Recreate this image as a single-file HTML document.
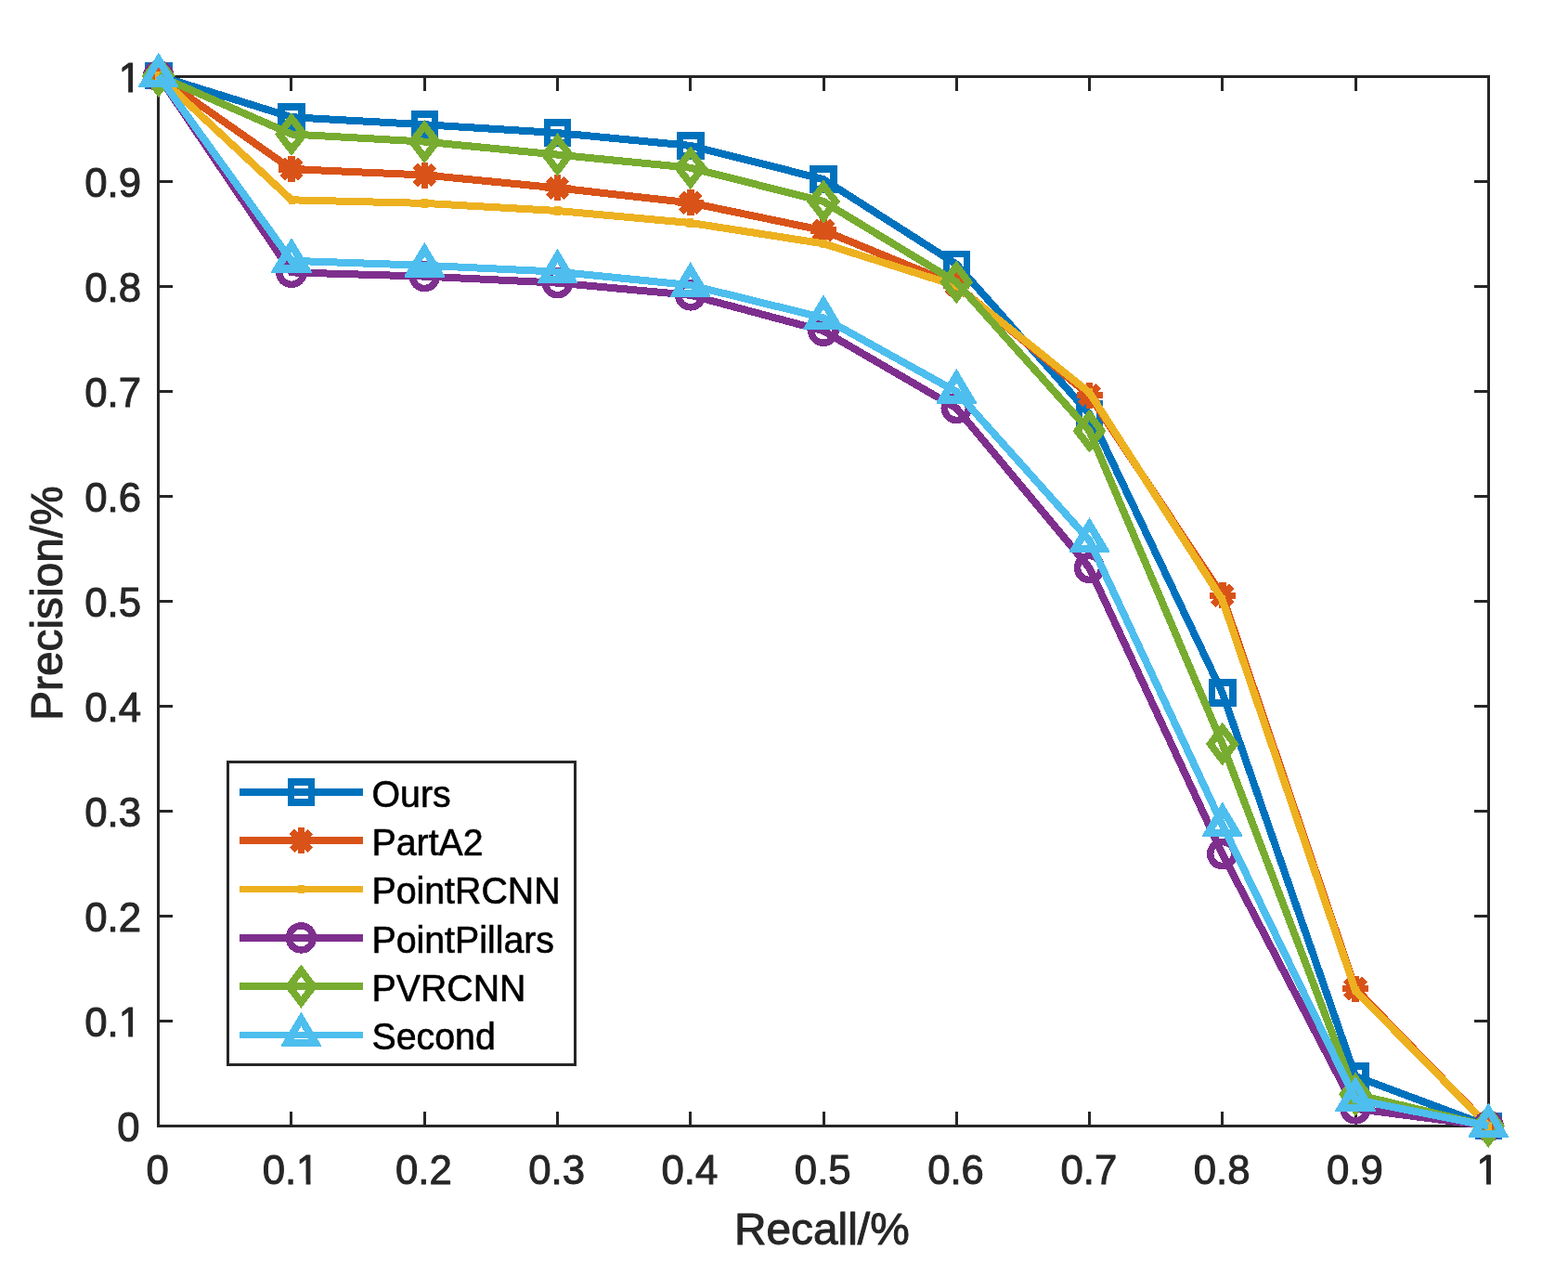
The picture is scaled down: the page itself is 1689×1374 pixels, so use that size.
<!DOCTYPE html>
<html lang="en">
<head>
<meta charset="utf-8">
<title>Precision-Recall curves</title>
<style>
html,body{margin:0;padding:0;background:#fff;}
body{width:1689px;height:1374px;overflow:hidden;font-family:"Liberation Sans",Arial,Helvetica,sans-serif;}
svg{display:block;}
</style>
</head>
<body>
<svg width="1689" height="1374" viewBox="0 0 1689 1374">

<defs>
<g id="sq"><path fill-rule="evenodd" d="M-14.75-14.75H14.75V14.75H-14.75Z M-7.35-7.35V7.35H7.35V-7.35Z"/></g>
<g id="ast"><path d="M-3.75-14H3.75V14H-3.75Z"/><path d="M-14-3.75H14V3.75H-14Z"/><path transform="rotate(45)" d="M-4-14H4V14H-4Z"/><path transform="rotate(-45)" d="M-4-14H4V14H-4Z"/></g>
<g id="pt"><rect x="-3.5" y="-4.6" width="7" height="9.2"/></g>
<g id="ci"><path fill-rule="evenodd" d="M-16.8 0A16.8 16.8 0 1 0 16.8 0A16.8 16.8 0 1 0 -16.8 0Z M-9.3 0A9.3 9.3 0 1 1 9.3 0A9.3 9.3 0 1 1 -9.3 0Z"/></g>
<g id="di"><path fill-rule="evenodd" d="M0-23.5L18 0L0 23.5L-18 0Z M0-10.65L-8.15 0L0 10.65L8.15 0Z"/></g>
<g id="dil"><path fill-rule="evenodd" d="M0-23.5L14.6-4.45V4.45L0 23.5L-14.6 4.45V-4.45Z M0-10.65L-8.15 0L0 10.65L8.15 0Z"/></g>
<g id="tri"><path fill-rule="evenodd" d="M0-25.1L21.7 11.3V12.8H-21.7V11.3Z M0-9.5L-8.1 4.7H8.1Z"/></g>
</defs>
<rect x="0" y="0" width="1689" height="1374" fill="#fff"/>
<g fill="#262626" shape-rendering="crispEdges">
<rect x="169" y="81" width="1436" height="3"/>
<rect x="169" y="1211" width="1436" height="3"/>
<rect x="169" y="81" width="3" height="1133"/>
<rect x="1602" y="81" width="3" height="1133"/>
<rect x="312" y="1197" width="3" height="14"/>
<rect x="312" y="84" width="3" height="14"/>
<rect x="172" y="1098" width="14" height="3"/>
<rect x="1588" y="1098" width="14" height="3"/>
<rect x="456" y="1197" width="3" height="14"/>
<rect x="456" y="84" width="3" height="14"/>
<rect x="172" y="985" width="14" height="3"/>
<rect x="1588" y="985" width="14" height="3"/>
<rect x="599" y="1197" width="3" height="14"/>
<rect x="599" y="84" width="3" height="14"/>
<rect x="172" y="872" width="14" height="3"/>
<rect x="1588" y="872" width="14" height="3"/>
<rect x="742" y="1197" width="3" height="14"/>
<rect x="742" y="84" width="3" height="14"/>
<rect x="172" y="759" width="14" height="3"/>
<rect x="1588" y="759" width="14" height="3"/>
<rect x="886" y="1197" width="3" height="14"/>
<rect x="886" y="84" width="3" height="14"/>
<rect x="172" y="646" width="14" height="3"/>
<rect x="1588" y="646" width="14" height="3"/>
<rect x="1029" y="1197" width="3" height="14"/>
<rect x="1029" y="84" width="3" height="14"/>
<rect x="172" y="533" width="14" height="3"/>
<rect x="1588" y="533" width="14" height="3"/>
<rect x="1172" y="1197" width="3" height="14"/>
<rect x="1172" y="84" width="3" height="14"/>
<rect x="172" y="420" width="14" height="3"/>
<rect x="1588" y="420" width="14" height="3"/>
<rect x="1315" y="1197" width="3" height="14"/>
<rect x="1315" y="84" width="3" height="14"/>
<rect x="172" y="307" width="14" height="3"/>
<rect x="1588" y="307" width="14" height="3"/>
<rect x="1459" y="1197" width="3" height="14"/>
<rect x="1459" y="84" width="3" height="14"/>
<rect x="172" y="194" width="14" height="3"/>
<rect x="1588" y="194" width="14" height="3"/>
</g>
<g font-family="'Liberation Sans', Arial, Helvetica, sans-serif" fill="#262626" stroke="#262626" stroke-width="1.0" stroke-linejoin="round">
<g font-size="43.75" text-anchor="middle">
<text x="169.75" y="1275">0</text>
<text x="313.05" y="1275">0.1</text>
<text x="456.35" y="1275">0.2</text>
<text x="599.65" y="1275">0.3</text>
<text x="742.95" y="1275">0.4</text>
<text x="886.25" y="1275">0.5</text>
<text x="1029.55" y="1275">0.6</text>
<text x="1172.85" y="1275">0.7</text>
<text x="1316.15" y="1275">0.8</text>
<text x="1459.45" y="1275">0.9</text>
<text x="1602.75" y="1275">1</text>
</g>
<g font-size="43.75" text-anchor="end">
<text x="150.7" y="1229">0</text>
<text x="152.0" y="1116">0.1</text>
<text x="152.0" y="1003">0.2</text>
<text x="152.0" y="890">0.3</text>
<text x="152.0" y="777">0.4</text>
<text x="152.0" y="664">0.5</text>
<text x="152.0" y="551">0.6</text>
<text x="152.0" y="438">0.7</text>
<text x="152.0" y="325">0.8</text>
<text x="152.0" y="212">0.9</text>
<text x="152.0" y="99">1</text>
</g>
<text font-size="47.85" text-anchor="middle" x="885.3" y="1340">Recall/%</text>
<text font-size="47.85" text-anchor="middle" transform="translate(66.6 649.6) rotate(-90)">Precision/%</text>
</g>
<g fill="#fff">
<rect x="319.76" y="1270.73" width="9.87" height="6"/><rect x="334.50" y="1270.73" width="9.53" height="6"/>
<rect x="128.30" y="1111.73" width="9.87" height="6"/><rect x="143.04" y="1111.73" width="9.53" height="6"/>
<rect x="1591.21" y="1270.73" width="9.87" height="6"/><rect x="1605.95" y="1270.73" width="9.53" height="6"/>
<rect x="128.30" y="94.73" width="9.87" height="6"/><rect x="143.04" y="94.73" width="9.53" height="6"/>
</g>
<g fill="#0072BD" shape-rendering="crispEdges">
<polyline points="170.75,81.60 314.00,126.20 457.25,134.20 600.50,143.10 743.75,156.90 887.00,193.10 1030.25,284.50 1173.50,445.70 1316.75,746.10 1460.00,1158.90 1603.25,1212.50" fill="none" stroke="#0072BD" stroke-width="8.0" stroke-linejoin="miter" stroke-linecap="butt"/>
<use href="#sq" x="170.75" y="81.60"/>
<use href="#sq" x="314.00" y="126.20"/>
<use href="#sq" x="457.25" y="134.20"/>
<use href="#sq" x="600.50" y="143.10"/>
<use href="#sq" x="743.75" y="156.90"/>
<use href="#sq" x="887.00" y="193.10"/>
<use href="#sq" x="1030.25" y="284.50"/>
<use href="#sq" x="1173.50" y="445.70"/>
<use href="#sq" x="1316.75" y="746.10"/>
<use href="#sq" x="1460.00" y="1158.90"/>
<use href="#sq" x="1603.25" y="1212.50"/>
</g>
<g fill="#D95319" shape-rendering="crispEdges">
<polyline points="170.75,81.60 314.00,182.10 457.25,188.50 600.50,202.40 743.75,218.40 887.00,248.20 1030.25,307.10 1173.50,425.70 1316.75,641.40 1460.00,1064.60 1603.25,1212.50" fill="none" stroke="#D95319" stroke-width="8.0" stroke-linejoin="miter" stroke-linecap="butt"/>
<use href="#ast" x="170.75" y="81.60"/>
<use href="#ast" x="314.00" y="182.10"/>
<use href="#ast" x="457.25" y="188.50"/>
<use href="#ast" x="600.50" y="202.40"/>
<use href="#ast" x="743.75" y="218.40"/>
<use href="#ast" x="887.00" y="248.20"/>
<use href="#ast" x="1030.25" y="307.10"/>
<use href="#ast" x="1173.50" y="425.70"/>
<use href="#ast" x="1316.75" y="641.40"/>
<use href="#ast" x="1460.00" y="1064.60"/>
<use href="#ast" x="1603.25" y="1212.50"/>
</g>
<g fill="#EDB120" shape-rendering="crispEdges">
<polyline points="170.75,81.60 314.00,215.30 457.25,218.90 600.50,227.00 743.75,240.00 887.00,262.30 1030.25,307.80 1173.50,422.70 1316.75,646.00 1460.00,1066.60 1603.25,1212.50" fill="none" stroke="#EDB120" stroke-width="8.0" stroke-linejoin="miter" stroke-linecap="butt"/>
<use href="#pt" x="170.75" y="81.60"/>
<use href="#pt" x="314.00" y="215.30"/>
<use href="#pt" x="457.25" y="218.90"/>
<use href="#pt" x="600.50" y="227.00"/>
<use href="#pt" x="743.75" y="240.00"/>
<use href="#pt" x="887.00" y="262.30"/>
<use href="#pt" x="1030.25" y="307.80"/>
<use href="#pt" x="1173.50" y="422.70"/>
<use href="#pt" x="1316.75" y="646.00"/>
<use href="#pt" x="1460.00" y="1066.60"/>
<use href="#pt" x="1603.25" y="1212.50"/>
</g>
<g fill="#7E2F8E" shape-rendering="crispEdges">
<polyline points="170.75,81.60 314.00,293.40 457.25,297.60 600.50,304.60 743.75,317.80 887.00,356.30 1030.25,439.50 1173.50,611.50 1316.75,919.50 1460.00,1193.80 1603.25,1212.50" fill="none" stroke="#7E2F8E" stroke-width="8.0" stroke-linejoin="miter" stroke-linecap="butt"/>
<use href="#ci" x="170.75" y="81.60"/>
<use href="#ci" x="314.00" y="293.40"/>
<use href="#ci" x="457.25" y="297.60"/>
<use href="#ci" x="600.50" y="304.60"/>
<use href="#ci" x="743.75" y="317.80"/>
<use href="#ci" x="887.00" y="356.30"/>
<use href="#ci" x="1030.25" y="439.50"/>
<use href="#ci" x="1173.50" y="611.50"/>
<use href="#ci" x="1316.75" y="919.50"/>
<use href="#ci" x="1460.00" y="1193.80"/>
<use href="#ci" x="1603.25" y="1212.50"/>
</g>
<g fill="#77AC30" shape-rendering="crispEdges">
<polyline points="170.75,81.60 314.00,144.50 457.25,152.60 600.50,166.60 743.75,180.70 887.00,217.00 1030.25,303.80 1173.50,464.00 1316.75,801.20 1460.00,1178.30 1603.25,1212.50" fill="none" stroke="#77AC30" stroke-width="8.0" stroke-linejoin="miter" stroke-linecap="butt"/>
<use href="#di" x="170.75" y="81.60"/>
<use href="#di" x="314.00" y="144.50"/>
<use href="#di" x="457.25" y="152.60"/>
<use href="#di" x="600.50" y="166.60"/>
<use href="#di" x="743.75" y="180.70"/>
<use href="#di" x="887.00" y="217.00"/>
<use href="#di" x="1030.25" y="303.80"/>
<use href="#di" x="1173.50" y="464.00"/>
<use href="#di" x="1316.75" y="801.20"/>
<use href="#di" x="1460.00" y="1178.30"/>
<use href="#di" x="1603.25" y="1212.50"/>
</g>
<g fill="#4DBEEE" shape-rendering="crispEdges">
<polyline points="170.75,81.60 314.00,280.80 457.25,285.80 600.50,292.60 743.75,307.10 887.00,342.30 1030.25,421.80 1173.50,582.00 1316.75,888.30 1460.00,1184.00 1603.25,1212.50" fill="none" stroke="#4DBEEE" stroke-width="8.0" stroke-linejoin="miter" stroke-linecap="butt"/>
<use href="#tri" x="170.75" y="81.60"/>
<use href="#tri" x="314.00" y="280.80"/>
<use href="#tri" x="457.25" y="285.80"/>
<use href="#tri" x="600.50" y="292.60"/>
<use href="#tri" x="743.75" y="307.10"/>
<use href="#tri" x="887.00" y="342.30"/>
<use href="#tri" x="1030.25" y="421.80"/>
<use href="#tri" x="1173.50" y="582.00"/>
<use href="#tri" x="1316.75" y="888.30"/>
<use href="#tri" x="1460.00" y="1184.00"/>
<use href="#tri" x="1603.25" y="1212.50"/>
</g>
<rect x="245.0" y="820.6" width="374.5" height="325.9" fill="#fff" stroke="#262626" stroke-width="3.0" shape-rendering="crispEdges"/>
<g shape-rendering="crispEdges">
<g fill="#0072BD"><rect x="258" y="849" width="133" height="8"/><use href="#sq" x="324.4" y="853.00"/></g>
<g fill="#D95319"><rect x="258" y="901" width="133" height="8"/><use href="#ast" x="324.4" y="905.30"/></g>
<g fill="#EDB120"><rect x="258" y="954" width="133" height="7"/><use href="#pt" x="324.4" y="957.60"/></g>
<g fill="#7E2F8E"><rect x="258" y="1006" width="133" height="8"/><use href="#ci" x="324.4" y="1009.90"/></g>
<g fill="#77AC30"><rect x="258" y="1058" width="133" height="8"/><use href="#dil" x="324.4" y="1062.20"/></g>
<g fill="#4DBEEE"><rect x="258" y="1111" width="133" height="7"/><use href="#tri" x="324.4" y="1114.50"/></g>
</g>
<g font-family="'Liberation Sans', Arial, Helvetica, sans-serif" font-size="39.3" fill="#000" stroke="#000" stroke-width="0.6" stroke-linejoin="round">
<text transform="translate(400.5 869) scale(1 1.03)">Ours</text>
<text transform="translate(400.5 921) scale(1 1.03)">PartA2</text>
<text transform="translate(400.5 973) scale(1 1.03)">PointRCNN</text>
<text transform="translate(400.5 1026) scale(1 1.03)">PointPillars</text>
<text transform="translate(400.5 1078) scale(1 1.03)">PVRCNN</text>
<text transform="translate(400.5 1130) scale(1 1.03)">Second</text>
</g>
</svg>
</body>
</html>
